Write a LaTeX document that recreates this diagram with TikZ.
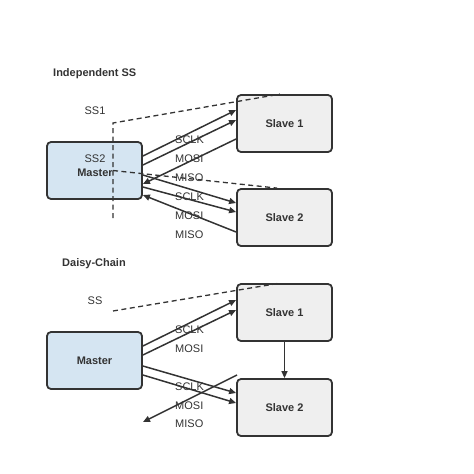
\documentclass[tikz,border=0pt]{standalone}
\usepackage{fontspec}
\setmainfont{Liberation Sans}
\usepackage{xcolor}
\usetikzlibrary{arrows.meta}
\definecolor{inkgray}{HTML}{333333}
\definecolor{masterblue}{HTML}{D5E5F2}
\definecolor{slavegray}{HTML}{EFEFEF}

\begin{document}
\begin{tikzpicture}[x=1pt,y=-1pt,font=\fontsize{11}{13}\selectfont,text=inkgray,
                    master node/.style={draw=inkgray,line width=1.8pt,rounded corners=4pt,fill=masterblue,minimum width=95pt,minimum height=57pt,font=\fontsize{11}{13}\selectfont\bfseries},
                    slave node/.style={draw=inkgray,line width=1.8pt,rounded corners=4pt,fill=slavegray,minimum width=95pt,minimum height=57pt,font=\fontsize{11}{13}\selectfont\bfseries},
                    sig/.style={draw=inkgray,line width=1.5pt,-{Triangle[length=7pt,width=6pt]}},
                    ssline/.style={draw=inkgray,line width=1.3pt,dash pattern=on 5pt off 3.5pt},
                    siglabel/.style={anchor=west,inner sep=0pt}]
 \useasboundingbox (0,0) rectangle (474,474);

 % Independent SS
 \node[anchor=west,inner sep=0pt,font=\fontsize{11}{13}\selectfont\bfseries] (TitleA) at (53,73.5) {Independent SS};
 \node[master node] (MasterA) at (94.5,170.5) {};
 \node[slave node] (SlaveA1) at (284.5,123.5) {\raisebox{-1pt}{Slave 1}};
 \node[slave node] (SlaveA2) at (284.5,217.5) {\raisebox{-1pt}{Slave 2}};
 \node[inner sep=0pt] (SSOne) at (95,110.5) {SS1};
 \node[inner sep=0pt] (SSTwo) at (95,158.5) {SS2};
 \node[inner sep=0pt,font=\fontsize{11}{13}\selectfont\bfseries] (MasterALabel) at (95,172.5) {Master};

 \draw[sig] ([yshift=14.5pt]MasterA.east) -- ([yshift=13.5pt]SlaveA1.west);
 \draw[sig] ([yshift=5.5pt]MasterA.east) -- ([yshift=3.5pt]SlaveA1.west);
 \draw[sig] ([yshift=-15.5pt]SlaveA1.west) -- ([yshift=-13.5pt]MasterA.east);
 \draw[sig] ([yshift=-4.5pt]MasterA.east) -- ([yshift=14.5pt]SlaveA2.west);
 \draw[sig] ([yshift=-16.5pt]MasterA.east) -- ([yshift=5.5pt]SlaveA2.west);
 \draw[sig] ([yshift=-14.5pt]SlaveA2.west) -- ([yshift=-24.5pt]MasterA.east);

 \coordinate (SSOneStart) at (113,218);
 \coordinate (SSOneBend) at (113,123);
 \draw[ssline] (SSOneStart) -- (SSOneBend) -- ([xshift=-4.5pt]SlaveA1.north);
 \draw[ssline] ([xshift=18.5pt]MasterA.center) -- ([xshift=-7.5pt]SlaveA2.north);

 \node[siglabel] (SclkA1) at (175,139.5) {SCLK};
 \node[siglabel] (MosiA1) at (175,158.5) {MOSI};
 \node[siglabel] (MisoA1) at (175,177.5) {MISO};
 \node[siglabel] (SclkA2) at (175,196.5) {SCLK};
 \node[siglabel] (MosiA2) at (175,215.5) {MOSI};
 \node[siglabel] (MisoA2) at (175,234.5) {MISO};

 % Daisy-Chain
 \node[anchor=west,inner sep=0pt,font=\fontsize{11}{13}\selectfont\bfseries] (TitleB) at (62,263.5) {Daisy-Chain};
 \node[master node] (MasterB) at (94.5,360.5) {\raisebox{-1pt}{Master}};
 \node[slave node] (SlaveB1) at (284.5,312.5) {\raisebox{-1pt}{Slave 1}};
 \node[slave node] (SlaveB2) at (284.5,407.5) {\raisebox{-1pt}{Slave 2}};
 \node[inner sep=0pt] (SSB) at (95,300.5) {SS};

 \draw[sig] ([yshift=14.5pt]MasterB.east) -- ([yshift=12.5pt]SlaveB1.west);
 \draw[sig] ([yshift=5.5pt]MasterB.east) -- ([yshift=2.5pt]SlaveB1.west);
 \draw[sig] ([yshift=-5.5pt]MasterB.east) -- ([yshift=14.5pt]SlaveB2.west);
 \draw[sig] ([yshift=-14.5pt]MasterB.east) -- ([yshift=4.5pt]SlaveB2.west);
 \draw[sig] (SlaveB1.south) -- (SlaveB2.north);

 \coordinate (MisoBStart) at (237,375);
 \coordinate (MisoBEnd) at (143,422);
 \draw[sig] (MisoBStart) -- (MisoBEnd);

 \coordinate (SSBStart) at (113,311);
 \draw[ssline] (SSBStart) -- ([xshift=-4.5pt]SlaveB1.north);

 \node[siglabel] (SclkB1) at (175,329.5) {SCLK};
 \node[siglabel] (MosiB1) at (175,348.5) {MOSI};
 \node[siglabel] (SclkB2) at (175,386.5) {SCLK};
 \node[siglabel] (MosiB2) at (175,405.5) {MOSI};
 \node[siglabel] (MisoB2) at (175,423.5) {MISO};

\end{tikzpicture}
\end{document}
